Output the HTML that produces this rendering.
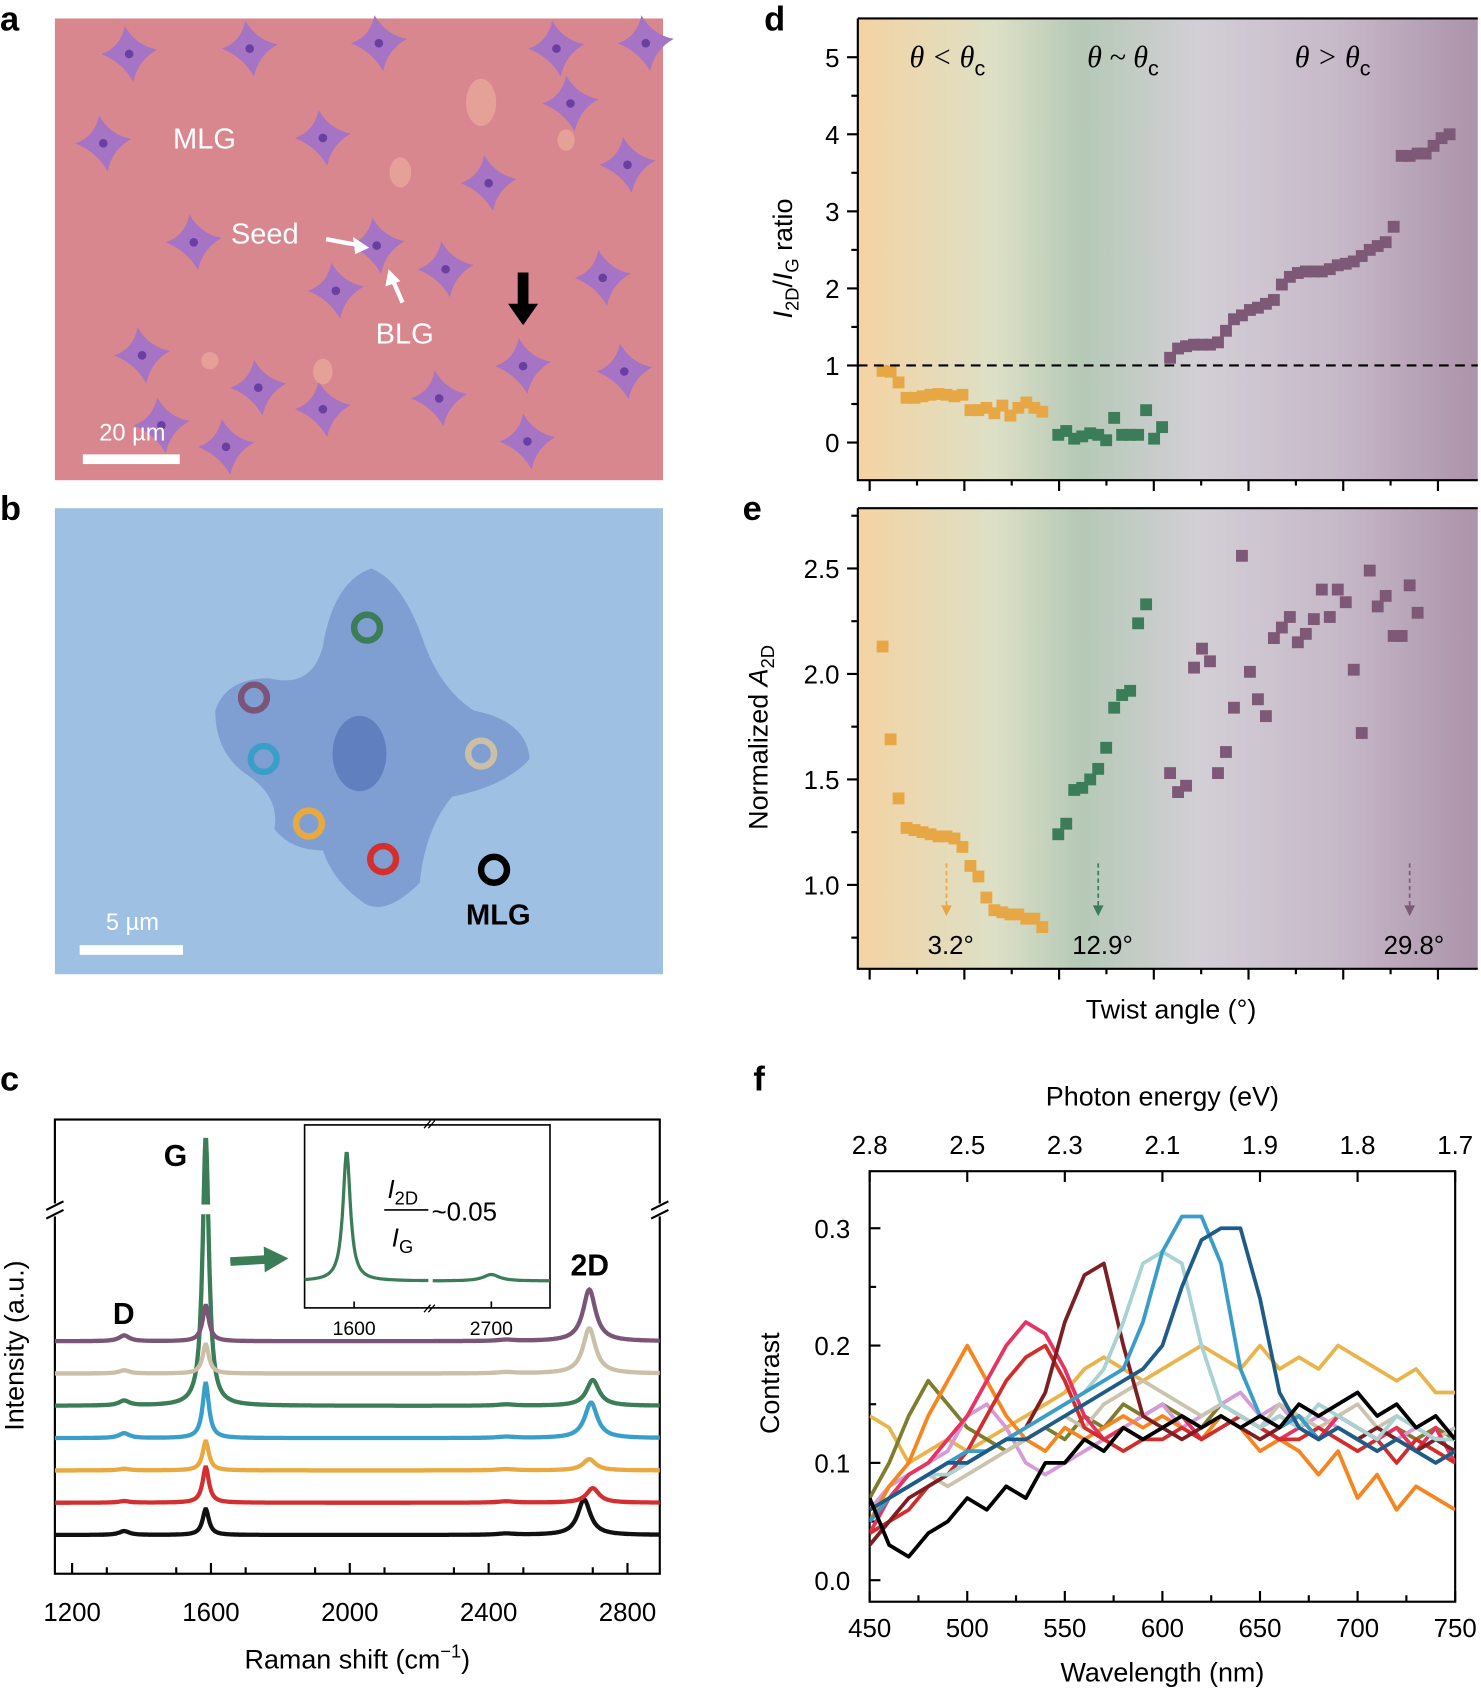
<!DOCTYPE html>
<html><head><meta charset="utf-8"><style>
html,body{margin:0;padding:0;background:#fff}
svg{display:block;font-family:"Liberation Sans",sans-serif}
</style></head><body>
<svg id="fig" xmlns="http://www.w3.org/2000/svg" width="1481" height="1688" viewBox="0 0 1376 1568">
<defs>
<linearGradient id="bgGrad" x1="0" x2="1" y1="0" y2="0">
<stop offset="0" stop-color="#f4d3a3"/><stop offset="0.22" stop-color="#dde0c6"/><stop offset="0.36" stop-color="#b5c9b6"/><stop offset="0.55" stop-color="#d3cfd6"/><stop offset="0.78" stop-color="#c6b8c8"/><stop offset="1" stop-color="#ac93aa"/>
</linearGradient>
<clipPath id="clipF"><rect x="808" y="1088" width="544" height="400"/></clipPath>
<clipPath id="clipC"><rect x="51" y="1042" width="562" height="420"/></clipPath>
</defs>

<g>
<rect x="51" y="17" width="565" height="429" fill="#d8878f"/>
<g id="blobsA" fill="#a574c4"></g>
<g fill="#e9a89a" opacity="0.8"><ellipse cx="447" cy="95" rx="14" ry="22"/><ellipse cx="372" cy="160" rx="10" ry="14"/><ellipse cx="300" cy="345" rx="9" ry="12"/><ellipse cx="526" cy="130" rx="8" ry="10"/><ellipse cx="195" cy="335" rx="8" ry="8"/></g>
<text x="190" y="138" font-size="27" fill="#fff" text-anchor="middle">MLG</text>
<text x="246" y="226" font-size="27" fill="#fff" text-anchor="middle">Seed</text>
<text x="376" y="319" font-size="27" fill="#fff" text-anchor="middle">BLG</text>
<path d="M303,222 L335,228" stroke="#fff" stroke-width="4"/><path d="M343,230 L328,220 L330,236z" fill="#fff"/>
<path d="M374,281 L364,258" stroke="#fff" stroke-width="4"/><path d="M361,250 L358,266 L372,261z" fill="#fff"/>
<path d="M486,253 L486,284" stroke="#000" stroke-width="10"/><path d="M472,282 L500,282 L486,302z" fill="#000"/>
<rect x="77" y="422" width="90" height="9" fill="#fff"/>
<text x="123" y="409" font-size="22" fill="#fff" text-anchor="middle">20 µm</text>
</g>

<g>
<rect x="51" y="472" width="565" height="433" fill="#9dc0e3"/>
<path d="M300,600 Q310,540 345,528 Q375,540 395,600 Q410,640 440,660 Q490,670 492,705 Q470,730 420,740 Q395,770 390,820 Q360,850 340,840 Q310,820 300,790 Q270,790 255,770 Q260,740 230,720 Q200,700 200,660 Q210,630 250,630 Q290,640 300,600z" fill="#7f9fd2"/>
<ellipse cx="334" cy="700" rx="25" ry="35" fill="#5f7fbf"/>
<g id="ringsB" fill="none" stroke-width="6"></g>
<text x="463" y="859" font-size="27" font-weight="bold" fill="#000" text-anchor="middle">MLG</text>
<rect x="74" y="878" width="96" height="9" fill="#fff"/>
<text x="123" y="864" font-size="22" fill="#fff" text-anchor="middle">5 µm</text>
</g>

<g font-weight="bold" font-size="32" fill="#000">
<text x="0" y="28">a</text>
<text x="0" y="483">b</text>
<text x="0" y="1013">c</text>
<text x="710" y="28">d</text>
<text x="690" y="483">e</text>
<text x="700" y="1013">f</text>
</g>

<rect x="797" y="17" width="576" height="429" fill="url(#bgGrad)"/>
<rect x="797" y="472" width="576" height="428" fill="url(#bgGrad)"/>
<g id="gD"></g><g id="gE"></g><g id="gC"></g><g id="gF"></g>

<g font-family="Liberation Serif,serif" font-style="italic" font-size="28" fill="#000">
<text x="845" y="62">θ &lt; θ<tspan font-family="Liberation Sans" font-style="normal" font-size="20" dy="8">c</tspan></text>
<text x="1010" y="62">θ ~ θ<tspan font-family="Liberation Sans" font-style="normal" font-size="20" dy="8">c</tspan></text>
<text x="1203" y="62">θ &gt; θ<tspan font-family="Liberation Sans" font-style="normal" font-size="20" dy="8">c</tspan></text>
</g>
<text transform="translate(736,240) rotate(-90)" font-size="25" text-anchor="middle"><tspan font-style="italic">I</tspan><tspan font-size="17" dy="6">2D</tspan><tspan dy="-6">/</tspan><tspan font-style="italic">I</tspan><tspan font-size="17" dy="6">G</tspan><tspan dy="-6"> ratio</tspan></text>
<text transform="translate(713,685) rotate(-90)" font-size="25" text-anchor="middle">Normalized <tspan font-style="italic">A</tspan><tspan font-size="17" dy="6">2D</tspan></text>
<text x="1088" y="946" font-size="25" text-anchor="middle">Twist angle (°)</text>

<text transform="translate(22,1250) rotate(-90)" font-size="25" text-anchor="middle">Intensity (a.u.)</text>
<text x="332" y="1550" font-size="25" text-anchor="middle">Raman shift (cm<tspan font-size="17" dy="-10">−1</tspan><tspan dy="10">)</tspan></text>
<text transform="translate(724,1285) rotate(-90)" font-size="25" text-anchor="middle">Contrast</text>
<text x="1080" y="1562" font-size="25" text-anchor="middle">Wavelength (nm)</text>
<text x="1080" y="1027" font-size="25" text-anchor="middle">Photon energy (eV)</text>

<script>
const dOrange=[0.93,0.92,0.78,0.58,0.58,0.6,0.62,0.63,0.62,0.6,0.62,0.42,0.42,0.45,0.38,0.48,0.35,0.45,0.52,0.45,0.4];
const dGreen=[0.1,0.15,0.05,0.08,0.12,0.1,0.03,0.32,0.1,0.1,0.1,0.42,0.05,0.2];
const dPurple=[1.1,1.22,1.25,1.27,1.27,1.27,1.3,1.45,1.6,1.65,1.72,1.75,1.8,1.85,2.05,2.15,2.2,2.22,2.22,2.22,2.25,2.3,2.32,2.35,2.42,2.5,2.55,2.6,2.8,3.72,3.72,3.75,3.75,3.85,3.95,4.0];
const eOrange=[2.13,1.69,1.41,1.27,1.26,1.25,1.24,1.23,1.23,1.22,1.18,1.09,1.04,0.94,0.88,0.87,0.86,0.86,0.84,0.84,0.8];
const eGreen=[1.24,1.29,1.45,1.46,1.5,1.55,1.65,1.84,1.9,1.92,2.24,2.33];
const ePurple=[1.53,1.44,1.47,2.03,2.12,2.06,1.53,1.63,1.84,2.56,2.01,1.88,1.8,2.17,2.22,2.27,2.15,2.19,2.26,2.4,2.27,2.4,2.34,2.02,1.72,2.49,2.32,2.37,2.18,2.18,2.42,2.29];
const seriesStart=[0,22,36];
const dYTicks=[0,1,2,3,4,5];
const eYTicks=["1.0","1.5","2.0","2.5"];
const angleLabels=["3.2°","12.9°","29.8°"];
const angleIndex=[8,27,66];

const ramanNames=["purple","beige","green","blue","yellow","red","black"];
const ramanColors=["#7b5577","#cbbfa8","#3a7d56","#3a9fc8","#e8a940","#d42f2f","#111111"];
const ramanOffset=[6,5,4,3,2,1,0];
const gHeight=[1.1,0.9,8.3,1.7,0.9,1.1,0.8];
const dHeight=[0.18,0.1,0.15,0.15,0.05,0.05,0.12];
const twoDHeight=[1.6,1.4,0.8,1.1,0.35,0.45,1.1];
const twoDPos=[2690,2690,2700,2695,2690,2700,2675];
const ramanTicks=[1200,1600,2000,2400,2800];

const wl=[450,460,470,480,490,500,510,520,530,540,550,560,570,580,590,600,610,620,630,640,650,660,670,680,690,700,710,720,730,740,750];
const fNames=["yellow","olive","violet","beige","orange","pink","red","darkred","lightblue","blue","darkblue","black"];
const fColors=["#e9b44c","#7f7d2d","#d59bd9","#cbc3ad","#f7851f","#e6335f","#d22d2d","#7b1f22","#a8d2d4","#3a9dc8","#1e5b86","#000000"];
const fYellow=[.14,.13,.10,.11,.12,.11,.12,.13,.14,.15,.16,.18,.19,.18,.17,.18,.19,.20,.19,.18,.20,.18,.19,.18,.20,.19,.18,.17,.18,.16,.16];
const fOlive=[.07,.10,.14,.17,.15,.13,.12,.11,.12,.13,.12,.14,.13,.15,.14,.15,.14,.13,.15,.14,.13,.14,.13,.12,.14,.13,.12,.13,.12,.13,.12];
const fViolet=[.06,.08,.09,.10,.11,.14,.15,.13,.10,.09,.10,.11,.12,.13,.14,.15,.13,.14,.15,.16,.14,.15,.13,.14,.13,.12,.13,.12,.13,.12,.12];
const fBeige=[.05,.07,.08,.09,.08,.09,.10,.11,.12,.13,.14,.13,.15,.16,.17,.16,.15,.14,.15,.14,.13,.15,.14,.13,.14,.15,.13,.14,.13,.12,.13];
const fOrange=[.05,.08,.10,.14,.17,.20,.17,.14,.12,.11,.13,.12,.13,.14,.13,.14,.13,.12,.14,.13,.11,.12,.11,.09,.11,.07,.09,.06,.08,.07,.06];
const fPink=[.04,.07,.09,.10,.12,.14,.17,.20,.22,.21,.18,.14,.12,.13,.12,.13,.14,.12,.13,.14,.13,.12,.13,.12,.14,.13,.12,.13,.11,.13,.10];
const fRed=[.04,.05,.06,.08,.09,.11,.14,.17,.19,.20,.17,.13,.12,.11,.12,.12,.13,.12,.13,.14,.13,.12,.12,.13,.12,.11,.12,.10,.12,.11,.10];
const fDarkred=[.03,.05,.07,.08,.09,.10,.11,.12,.13,.16,.22,.26,.27,.20,.14,.13,.12,.13,.14,.13,.12,.13,.14,.12,.13,.12,.13,.12,.11,.12,.11];
const fLightblue=[.06,.07,.08,.09,.09,.10,.11,.12,.13,.14,.15,.16,.18,.22,.27,.28,.27,.20,.15,.14,.13,.14,.13,.15,.14,.13,.12,.14,.13,.12,.12];
const fBlue=[.05,.07,.08,.09,.10,.11,.11,.12,.13,.14,.15,.16,.17,.18,.22,.28,.31,.31,.27,.18,.14,.13,.14,.12,.13,.12,.11,.12,.11,.10,.11];
const fDarkblue=[.06,.07,.08,.09,.10,.10,.11,.12,.12,.13,.14,.15,.16,.17,.18,.20,.25,.29,.30,.30,.24,.16,.13,.12,.13,.12,.11,.12,.11,.10,.11];
const fBlack=[.07,.03,.02,.04,.05,.07,.06,.08,.07,.10,.10,.12,.11,.13,.12,.13,.14,.13,.14,.13,.14,.13,.15,.14,.15,.16,.14,.15,.13,.14,.12];
const fTicksY=["0.0","0.1","0.2","0.3"];
const fTicksX=[450,500,550,600,650,700,750];
const fTopLabels=["2.8","2.5","2.3","2.1","1.9","1.8","1.7"];

const NS="http://www.w3.org/2000/svg";
function el(tag,attrs,parent){const e=document.createElementNS(NS,tag);for(const k in attrs)e.setAttribute(k,attrs[k]);parent.appendChild(e);return e;}
function txt(s,attrs,parent){const e=el('text',attrs,parent);e.textContent=s;return e;}

const blobsA=document.getElementById('blobsA');
const blobPts=[[120,50],[232,45],[352,40],[517,45],[96,133],[300,128],[454,170],[530,96],[583,153],[180,225],[350,228],[560,258],[312,270],[486,340],[132,330],[240,360],[408,370],[580,345],[300,380],[490,410],[210,415],[150,395],[414,250],[600,40]];
blobPts.forEach(p=>{
  const g=el('path',{d:`M${p[0]-26},${p[1]} Q${p[0]-8},${p[1]-6} ${p[0]-4},${p[1]-26} Q${p[0]+6},${p[1]-8} ${p[0]+26},${p[1]-4} Q${p[0]+8},${p[1]+6} ${p[0]+4},${p[1]+26} Q${p[0]-6},${p[1]+8} ${p[0]-26},${p[1]}z`},blobsA);
  
  
  el('circle',{cx:p[0],cy:p[1],r:4,fill:'#6a3fa0'},blobsA);
});

const ringsB=document.getElementById('ringsB');
const ringPos=[[341,583,"#3a7d56"],[236,648,"#7b5577"],[245,705,"#3a9fc8"],[447,700,"#cbbfa8"],[287,765,"#e8a940"],[356,798,"#d42f2f"],[459,808,"#000"]];
ringPos.forEach(r=>{
  const c=el('circle',{cx:r[0],cy:r[1],r:12,stroke:r[2]},ringsB);
  
  
});

const xIdx=i=>820+i*7.42;
function scatterPanel(g,yS,series,colors,top,bottom,ticks,tickVals,minor){
  const ax=el('path',{d:`M797,${top} L1373,${top} M797,${top} L797,${bottom} L1373,${bottom}`,stroke:'#000','stroke-width':2,fill:'none'},g);
  
  
  tickVals.forEach((v,k)=>{
    el('line',{x1:787,x2:797,y1:yS(v),y2:yS(v),stroke:'#000','stroke-width':2},g);
    const t=txt(ticks[k],{x:780,y:yS(v)+9,'font-size':24,'text-anchor':'end'},g);
    
    
  });
  minor.forEach(v=>el('line',{x1:791,x2:797,y1:yS(v),y2:yS(v),stroke:'#000','stroke-width':2},g));
  for(let k=0;k<14;k++){el('line',{x1:808+k*44,x2:808+k*44,y1:bottom,y2:bottom+(k%2?5:10),stroke:'#000','stroke-width':2},g);}
  series.forEach((s,si)=>{s.forEach((v,k)=>{
    const r=el('rect',{x:xIdx(seriesStart[si]+k)-5.5,y:yS(v)-5.5,width:11,height:11,fill:colors[si]},g);
    
    
  });});
}
const cols=["#e6a744","#3b7d58","#7d5877"];
const yD=v=>411-v*71.6;
const gD=document.getElementById('gD');
scatterPanel(gD,yD,[dOrange,dGreen,dPurple],cols,17,446,dYTicks.map(String),dYTicks,[0.5,1.5,2.5,3.5,4.5]);
const dl=el('line',{x1:797,x2:1373,y1:yD(1),y2:yD(1),stroke:'#000','stroke-width':2,'stroke-dasharray':'9,6'},gD);



const yE=v=>822-(v-1)*196;
const gE=document.getElementById('gE');
scatterPanel(gE,yE,[eOrange,eGreen,ePurple],cols,472,900,eYTicks,eYTicks.map(Number),[0.75,1.25,1.75,2.25,2.75]);
angleIndex.forEach((ai,k)=>{
  const x=xIdx(ai);
  el('line',{x1:x,x2:x,y1:802,y2:842,stroke:cols[k],'stroke-width':1.6,'stroke-dasharray':'4,3'},gE);
  el('path',{d:`M${x-5},${841} L${x+5},${841} L${x},${851}z`,fill:cols[k]},gE);
  const t=txt(angleLabels[k],{x:x+4,y:886,'font-size':24,'text-anchor':'middle'},gE);
  
  
});

const gC=document.getElementById('gC');
const xC=w=>67+(w-1200)/400*129;
const yC=I=>1426-I*30;
const box=el('rect',{x:51,y:1040,width:562,height:422,fill:'none',stroke:'#000','stroke-width':2},gC);


ramanTicks.forEach(t=>{
  el('line',{x1:xC(t),x2:xC(t),y1:1462,y2:1452,stroke:'#000','stroke-width':2},gC);
  const l=txt(String(t),{x:xC(t),y:1506,'font-size':24,'text-anchor':'middle'},gC);
  
  
});
for(let t=1300;t<2900;t+=200){if(t%400)el('line',{x1:xC(t),x2:xC(t),y1:1462,y2:1456,stroke:'#000','stroke-width':2},gC);}
const lor=(w,p,g)=>1/(1+((w-p)/g)**2);
const gc=el('g',{'clip-path':'url(#clipC)'},gC);
for(let s=ramanNames.length-1;s>=0;s--){
  let d='';
  for(let w=1150;w<=2895;w+=2){
    const I=ramanOffset[s]+gHeight[s]*lor(w,1585,11)+dHeight[s]*lor(w,1350,18)+twoDHeight[s]*lor(w,twoDPos[s],22)+0.04*lor(w,2450,30);
    d+=(d?'L':'M')+xC(w).toFixed(1)+','+yC(I).toFixed(1);
  }
  const p=el('path',{d:d,fill:'none',stroke:ramanColors[s],'stroke-width':4},gc);
  
  
}
el('rect',{x:180,y:1119,width:22,height:9,fill:'#fff'},gC);
el('rect',{x:44,y:1118,width:14,height:12,fill:'#fff'},gC);
el('rect',{x:606,y:1118,width:14,height:12,fill:'#fff'},gC);
el('path',{d:'M43,1124 L59,1116 M43,1132 L59,1124 M605,1124 L621,1116 M605,1132 L621,1124',stroke:'#000','stroke-width':2},gC);
const gl=txt('G',{x:163,y:1083,'font-size':28,'font-weight':'bold','text-anchor':'middle'},gC);


const dlb=txt('D',{x:115,y:1230,'font-size':28,'font-weight':'bold','text-anchor':'middle'},gC);


const tdl=txt('2D',{x:548,y:1185,'font-size':28,'font-weight':'bold','text-anchor':'middle'},gC);


el('path',{d:'M214,1172 L248,1170',stroke:'#3a7d56','stroke-width':8},gC);
el('path',{d:'M245,1158 L268,1169 L246,1182z',fill:'#3a7d56'},gC);

const inset=el('g',{},gC);


el('rect',{x:283,y:1045,width:228,height:170,fill:'#fff',stroke:'#000','stroke-width':1.5},inset);
const xI=w=>w<2000?283+(w-1500)/250*115:402+(w-2550)/300*109;
const yI=h=>1190-h*120;
let di='';
for(let w=1500;w<=1750;w+=2){di+=(di?'L':'M')+xI(w).toFixed(1)+','+yI(lor(w,1585,9)).toFixed(1);}
let di2='';
for(let w=2550;w<=2850;w+=3){di2+=(di2?'L':'M')+xI(w).toFixed(1)+','+yI(0.05*lor(w,2700,25)).toFixed(1);}
el('path',{d:di,fill:'none',stroke:'#3a7d56','stroke-width':3},inset);
el('path',{d:di2,fill:'none',stroke:'#3a7d56','stroke-width':3},inset);
[1600,2700].forEach(t=>{el('line',{x1:xI(t),x2:xI(t),y1:1215,y2:1209,stroke:'#000','stroke-width':1.5},inset);txt(String(t),{x:xI(t),y:1240,'font-size':18,'text-anchor':'middle'},inset);});
el('path',{d:'M394,1048 L400,1041 M398,1048 L404,1041 M394,1219 L400,1212 M398,1219 L404,1212',stroke:'#000','stroke-width':1.2},inset);
function frac(x,y,sub,parent){
  const t=el('text',{x:x,y:y,'font-size':24},parent);
  const a=document.createElementNS(NS,'tspan');a.setAttribute('font-style','italic');a.textContent='I';t.appendChild(a);
  const b=document.createElementNS(NS,'tspan');b.setAttribute('font-size','17');b.setAttribute('dy','6');b.textContent=sub;t.appendChild(b);
  return t;
}
const num=frac(360,1113,'2D',inset);


el('line',{x1:357,x2:398,y1:1124,y2:1124,stroke:'#000','stroke-width':1.5},inset);
const den=frac(364,1158,'G',inset);


txt('~0.05',{x:401,y:1134,'font-size':24},inset);

const gF=document.getElementById('gF');
const xF=n=>808+(n-450)*1.8133;
const yF=c=>1468-c*1090;
const fb=el('rect',{x:808,y:1088,width:544,height:400,fill:'none',stroke:'#000','stroke-width':2},gF);


fTicksY.forEach(t=>{const v=Number(t);
  el('line',{x1:808,x2:818,y1:yF(v),y2:yF(v),stroke:'#000','stroke-width':2},gF);
  const l=txt(t,{x:790,y:yF(v)+9,'font-size':24,'text-anchor':'end'},gF);
  
  
});
[0.05,0.15,0.25].forEach(v=>el('line',{x1:808,x2:814,y1:yF(v),y2:yF(v),stroke:'#000','stroke-width':2},gF));
fTicksX.forEach(t=>{
  el('line',{x1:xF(t),x2:xF(t),y1:1488,y2:1478,stroke:'#000','stroke-width':2},gF);
  const l=txt(String(t),{x:xF(t),y:1521,'font-size':24,'text-anchor':'middle'},gF);
  
  
});
for(let t=475;t<750;t+=50)el('line',{x1:xF(t),x2:xF(t),y1:1488,y2:1482,stroke:'#000','stroke-width':2},gF);
fTopLabels.forEach((t,k)=>{
  const x=808+k*(544/6);
  el('line',{x1:x,x2:x,y1:1088,y2:1098,stroke:'#000','stroke-width':2},gF);
  const l=txt(t,{x:x,y:1072,'font-size':24,'text-anchor':'middle'},gF);
  
  
});
const fSeries=[fYellow,fOlive,fViolet,fBeige,fOrange,fPink,fRed,fDarkred,fLightblue,fBlue,fDarkblue,fBlack];
const gfc=el('g',{'clip-path':'url(#clipF)'},gF);
fSeries.forEach((s,si)=>{
  let d='';
  s.forEach((v,k)=>{d+=(k?'L':'M')+xF(wl[k]).toFixed(1)+','+yF(v).toFixed(1);});
  const p=el('path',{d:d,fill:'none',stroke:fColors[si],'stroke-width':3.5,'stroke-linejoin':'round'},gfc);
  
  
});
</script>
</svg>
</body></html>
